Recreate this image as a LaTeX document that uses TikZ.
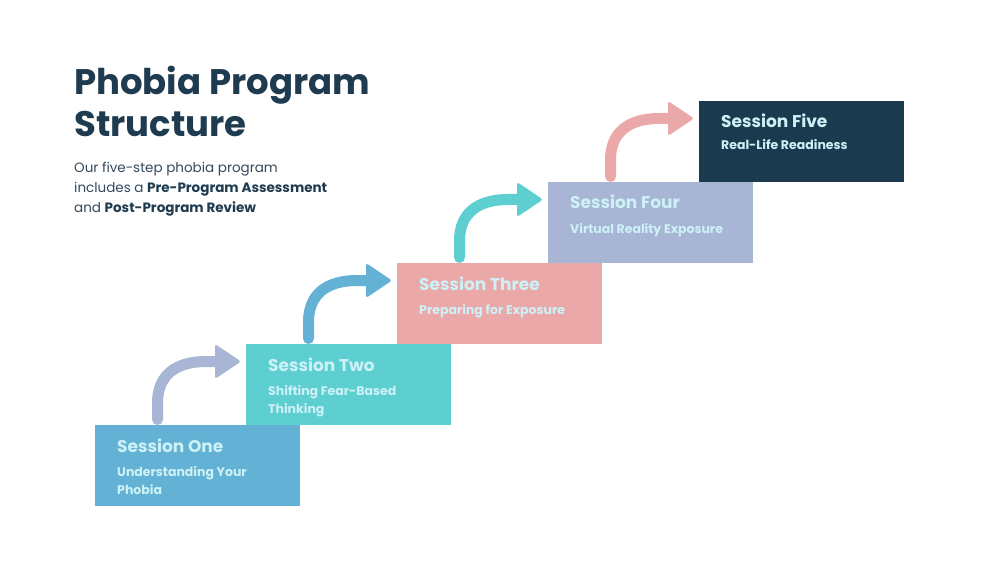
\documentclass[tikz,border=0pt]{standalone}
\usepackage{fontspec}
\setmainfont{Poppins}
\usetikzlibrary{calc}
\definecolor{cblue}{HTML}{63B1D4}
\definecolor{cteal}{HTML}{5ECFD0}
\definecolor{cpink}{HTML}{EBA8A9}
\definecolor{clav}{HTML}{A8B5D4}
\definecolor{cnavy}{HTML}{1C3A4F}
\definecolor{cboxtext}{HTML}{CCF1F6}
\definecolor{ctitle}{HTML}{1E3B50}
\definecolor{cbody}{HTML}{34495E}
\tikzset{
  stepbox/.style={draw=none, fill=#1, minimum width=205pt, minimum height=81pt, inner sep=0pt, outer sep=0pt},
  boxtitle/.style={anchor=base west, inner sep=0pt, text=cboxtext, font=\bfseries\fontsize{17}{20}\selectfont},
  boxsub/.style={anchor=base west, inner sep=0pt, text=cboxtext, align=left, font=\bfseries\fontsize{12.5}{18.5}\selectfont},
  shaft/.style={line width=11pt, line cap=round, draw=#1},
}
\newcommand{\steparrow}[3]{%
  \draw[shaft=#3] ($(#1.north west)+(62.5,5.5)$) -- ($(#1.north west)+(62.5,22)$)
    .. controls ($(#1.north west)+(62.5,50)$) and ($(#2.north west)+(-70,-17.5)$) .. ($(#2.north west)+(-40,-17.5)$)
    -- ($(#2.north west)+(-29,-17.5)$);
  \fill[#3, rounded corners=2.5pt] ($(#2.north west)+(-31,-17.5)$) -- ($(#2.north west)+(-31,0)$) -- ($(#2.north west)+(-5,-17.5)$) -- ($(#2.north west)+(-31,-35)$) -- cycle;
}
\begin{document}
\begin{tikzpicture}[x=1pt,y=1pt]
\useasboundingbox[fill=white] (0,0) rectangle (1000,563);
% title
\node[anchor=base west, inner sep=0pt, text=ctitle, font=\bfseries\fontsize{35.5}{42}\selectfont] (t1) at (74,468) {Phobia Program};
\node[anchor=base west, inner sep=0pt, text=ctitle, font=\bfseries\fontsize{35.5}{42}\selectfont] (t2) at (74,426) {Structure};
\node[anchor=base west, inner sep=0pt, text=cbody, font=\fontsize{13.5}{20.2}\selectfont, align=left] (body) at (74,350)
  {Our five-step phobia program\\includes a {\bfseries\color{ctitle}Pre-Program Assessment}\\and {\bfseries\color{ctitle}Post-Program Review}};
% boxes
\node[stepbox=cblue, anchor=south west] (b1) at (95,57) {};
\node[stepbox=cteal, anchor=south west] (b2) at (246,138) {};
\node[stepbox=cpink, anchor=south west] (b3) at (397,219) {};
\node[stepbox=clav, anchor=south west] (b4) at (548,300) {};
\node[stepbox=cnavy, anchor=south west] (b5) at (699,381) {};
% texts
\node[boxtitle] (b1t) at ($(b1.north west)+(22,-27)$) {Session One};
\node[boxsub] (b1s) at ($(b1.north west)+(22,-69.5)$) {Understanding Your\\Phobia};
\node[boxtitle] (b2t) at ($(b2.north west)+(22,-27)$) {Session Two};
\node[boxsub] (b2s) at ($(b2.north west)+(22,-69.5)$) {Shifting Fear-Based\\Thinking};
\node[boxtitle] (b3t) at ($(b3.north west)+(22,-27)$) {Session Three};
\node[boxsub] (b3s) at ($(b3.north west)+(22,-51)$) {Preparing for Exposure};
\node[boxtitle] (b4t) at ($(b4.north west)+(22,-27)$) {Session Four};
\node[boxsub] (b4s) at ($(b4.north west)+(22,-51)$) {Virtual Reality Exposure};
\node[boxtitle] (b5t) at ($(b5.north west)+(22,-27)$) {Session Five};
\node[boxsub] (b5s) at ($(b5.north west)+(22,-49)$) {Real-Life Readiness};
% arrows
\steparrow{b1}{b2}{clav}
\steparrow{b2}{b3}{cblue}
\steparrow{b3}{b4}{cteal}
\steparrow{b4}{b5}{cpink}
\end{tikzpicture}
\end{document}
